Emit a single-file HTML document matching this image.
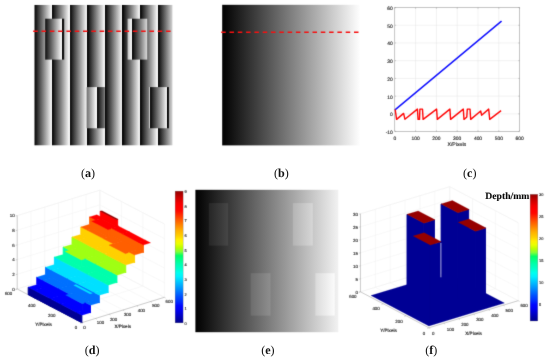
<!DOCTYPE html>
<html lang="en"><head><meta charset="utf-8"><title>Figure</title>
<style>html,body{margin:0;padding:0;background:#fff;}body{width:550px;height:362px;overflow:hidden;}svg{display:block;text-rendering:geometricPrecision;}</style>
</head><body>
<svg width="550" height="362" viewBox="0 0 550 362" font-family="Liberation Sans, Arial, sans-serif">
<defs><linearGradient id="fr" gradientUnits="userSpaceOnUse" x1="34.3" y1="0" x2="51.94" y2="0" spreadMethod="repeat"><stop offset="0" stop-color="#000"/><stop offset="1" stop-color="#fff"/></linearGradient><linearGradient id="gb" x1="0" y1="0" x2="1" y2="0"><stop offset="0" stop-color="#000"/><stop offset="1" stop-color="#fff"/></linearGradient><linearGradient id="ge" gradientUnits="userSpaceOnUse" x1="195.4" y1="0" x2="338.4" y2="0"><stop offset="0" stop-color="#000"/><stop offset="1" stop-color="#f2f2f2"/></linearGradient><linearGradient id="ge2" gradientUnits="userSpaceOnUse" x1="195.4" y1="0" x2="338.4" y2="0"><stop offset="0" stop-color="#0f0f0f"/><stop offset="0.99" stop-color="#ffffff"/><stop offset="1" stop-color="#ffffff"/></linearGradient><linearGradient id="jet" x1="0" y1="1" x2="0" y2="0"><stop offset="0.01" stop-color="#000094"/><stop offset="0.04" stop-color="#0000b4"/><stop offset="0.07" stop-color="#0000d4"/><stop offset="0.1" stop-color="#0000f4"/><stop offset="0.13" stop-color="#0007ff"/><stop offset="0.16" stop-color="#002cff"/><stop offset="0.2" stop-color="#004fff"/><stop offset="0.23" stop-color="#0070ff"/><stop offset="0.26" stop-color="#0091ff"/><stop offset="0.29" stop-color="#00b1ff"/><stop offset="0.32" stop-color="#00d0ff"/><stop offset="0.35" stop-color="#00f0ff"/><stop offset="0.38" stop-color="#00ffef"/><stop offset="0.41" stop-color="#00ffce"/><stop offset="0.45" stop-color="#00ffac"/><stop offset="0.48" stop-color="#00ff89"/><stop offset="0.51" stop-color="#00ff64"/><stop offset="0.54" stop-color="#80ff37"/><stop offset="0.57" stop-color="#b9ff00"/><stop offset="0.6" stop-color="#e9ff00"/><stop offset="0.63" stop-color="#fff000"/><stop offset="0.66" stop-color="#ffd000"/><stop offset="0.7" stop-color="#ffb100"/><stop offset="0.73" stop-color="#ff9100"/><stop offset="0.76" stop-color="#ff7000"/><stop offset="0.79" stop-color="#ff4f00"/><stop offset="0.82" stop-color="#ff2c00"/><stop offset="0.85" stop-color="#ff0700"/><stop offset="0.88" stop-color="#ff0000"/><stop offset="0.91" stop-color="#f20000"/><stop offset="0.95" stop-color="#cd0000"/><stop offset="0.98" stop-color="#a90000"/><stop offset="1" stop-color="#960000"/></linearGradient><filter id="soft" color-interpolation-filters="sRGB" filterUnits="userSpaceOnUse" x="0" y="0" width="550" height="362"><feConvolveMatrix order="3" kernelMatrix="0.01 0.08 0.01 0.08 0.64 0.08 0.01 0.08 0.01" divisor="1" edgeMode="duplicate" preserveAlpha="true"/></filter></defs>
<g filter="url(#soft)">
<rect width="550" height="362" fill="#fff"/>
<g><clipPath id="ca"><rect x="34.3" y="4.8" width="138.2" height="140.8"/></clipPath><g clip-path="url(#ca)"><rect x="34.3" y="4.8" width="158.76" height="140.8" fill="url(#fr)"/><g clip-path="url(#cb0)"><clipPath id="cb0"><rect x="45.2" y="18.4" width="19" height="41.4"/></clipPath><rect x="34.3" y="18.4" width="352.8" height="41.4" fill="url(#fr)" transform="translate(-148.7 0)"/></g><g clip-path="url(#cb1)"><clipPath id="cb1"><rect x="127.6" y="18.4" width="19.6" height="41.4"/></clipPath><rect x="34.3" y="18.4" width="352.8" height="41.4" fill="url(#fr)" transform="translate(-78.7 0)"/></g><g clip-path="url(#cb2)"><clipPath id="cb2"><rect x="86.6" y="87.1" width="18.3" height="41.4"/></clipPath><rect x="34.3" y="87.1" width="352.8" height="41.4" fill="url(#fr)" transform="translate(-114 0)"/></g><g clip-path="url(#cb3)"><clipPath id="cb3"><rect x="149.4" y="87.1" width="19.5" height="41.4"/></clipPath><rect x="34.3" y="87.1" width="352.8" height="41.4" fill="url(#fr)" transform="translate(-43.3 0)"/></g></g><line x1="33.2" y1="31.2" x2="172" y2="31.2" stroke="#f51010" stroke-width="1.6" stroke-dasharray="4.6 3.7"/></g>
<rect x="222.2" y="4.8" width="138.3" height="140.6" fill="url(#gb)"/><line x1="221.2" y1="32.2" x2="359.5" y2="32.2" stroke="#f51010" stroke-width="1.6" stroke-dasharray="4.5 3.8"/>
<g><rect x="394.8" y="7.5" width="124.8" height="124.1" fill="#fff"/><line x1="415.6" y1="7.5" x2="415.6" y2="131.6" stroke="#e4e4e4" stroke-width="0.5"/><line x1="436.4" y1="7.5" x2="436.4" y2="131.6" stroke="#e4e4e4" stroke-width="0.5"/><line x1="457.2" y1="7.5" x2="457.2" y2="131.6" stroke="#e4e4e4" stroke-width="0.5"/><line x1="478" y1="7.5" x2="478" y2="131.6" stroke="#e4e4e4" stroke-width="0.5"/><line x1="498.8" y1="7.5" x2="498.8" y2="131.6" stroke="#e4e4e4" stroke-width="0.5"/><line x1="394.8" y1="113.87" x2="519.6" y2="113.87" stroke="#e4e4e4" stroke-width="0.5"/><line x1="394.8" y1="96.14" x2="519.6" y2="96.14" stroke="#e4e4e4" stroke-width="0.5"/><line x1="394.8" y1="78.41" x2="519.6" y2="78.41" stroke="#e4e4e4" stroke-width="0.5"/><line x1="394.8" y1="60.69" x2="519.6" y2="60.69" stroke="#e4e4e4" stroke-width="0.5"/><line x1="394.8" y1="42.96" x2="519.6" y2="42.96" stroke="#e4e4e4" stroke-width="0.5"/><line x1="394.8" y1="25.23" x2="519.6" y2="25.23" stroke="#e4e4e4" stroke-width="0.5"/><line x1="394.8" y1="131.6" x2="394.8" y2="130.3" stroke="#888" stroke-width="0.4"/><line x1="394.8" y1="7.5" x2="394.8" y2="8.8" stroke="#888" stroke-width="0.4"/><line x1="415.6" y1="131.6" x2="415.6" y2="130.3" stroke="#888" stroke-width="0.4"/><line x1="415.6" y1="7.5" x2="415.6" y2="8.8" stroke="#888" stroke-width="0.4"/><line x1="436.4" y1="131.6" x2="436.4" y2="130.3" stroke="#888" stroke-width="0.4"/><line x1="436.4" y1="7.5" x2="436.4" y2="8.8" stroke="#888" stroke-width="0.4"/><line x1="457.2" y1="131.6" x2="457.2" y2="130.3" stroke="#888" stroke-width="0.4"/><line x1="457.2" y1="7.5" x2="457.2" y2="8.8" stroke="#888" stroke-width="0.4"/><line x1="478" y1="131.6" x2="478" y2="130.3" stroke="#888" stroke-width="0.4"/><line x1="478" y1="7.5" x2="478" y2="8.8" stroke="#888" stroke-width="0.4"/><line x1="498.8" y1="131.6" x2="498.8" y2="130.3" stroke="#888" stroke-width="0.4"/><line x1="498.8" y1="7.5" x2="498.8" y2="8.8" stroke="#888" stroke-width="0.4"/><line x1="519.6" y1="131.6" x2="519.6" y2="130.3" stroke="#888" stroke-width="0.4"/><line x1="519.6" y1="7.5" x2="519.6" y2="8.8" stroke="#888" stroke-width="0.4"/><line x1="394.8" y1="131.6" x2="396.1" y2="131.6" stroke="#888" stroke-width="0.4"/><line x1="519.6" y1="131.6" x2="518.3" y2="131.6" stroke="#888" stroke-width="0.4"/><line x1="394.8" y1="113.87" x2="396.1" y2="113.87" stroke="#888" stroke-width="0.4"/><line x1="519.6" y1="113.87" x2="518.3" y2="113.87" stroke="#888" stroke-width="0.4"/><line x1="394.8" y1="96.14" x2="396.1" y2="96.14" stroke="#888" stroke-width="0.4"/><line x1="519.6" y1="96.14" x2="518.3" y2="96.14" stroke="#888" stroke-width="0.4"/><line x1="394.8" y1="78.41" x2="396.1" y2="78.41" stroke="#888" stroke-width="0.4"/><line x1="519.6" y1="78.41" x2="518.3" y2="78.41" stroke="#888" stroke-width="0.4"/><line x1="394.8" y1="60.69" x2="396.1" y2="60.69" stroke="#888" stroke-width="0.4"/><line x1="519.6" y1="60.69" x2="518.3" y2="60.69" stroke="#888" stroke-width="0.4"/><line x1="394.8" y1="42.96" x2="396.1" y2="42.96" stroke="#888" stroke-width="0.4"/><line x1="519.6" y1="42.96" x2="518.3" y2="42.96" stroke="#888" stroke-width="0.4"/><line x1="394.8" y1="25.23" x2="396.1" y2="25.23" stroke="#888" stroke-width="0.4"/><line x1="519.6" y1="25.23" x2="518.3" y2="25.23" stroke="#888" stroke-width="0.4"/><line x1="394.8" y1="7.5" x2="396.1" y2="7.5" stroke="#888" stroke-width="0.4"/><line x1="519.6" y1="7.5" x2="518.3" y2="7.5" stroke="#888" stroke-width="0.4"/><rect x="394.8" y="7.5" width="124.8" height="124.1" fill="none" stroke="#8a8a8a" stroke-width="0.5"/><line x1="395.3" y1="109.6" x2="501.2" y2="21.4" stroke="#1010ff" stroke-width="1.45" stroke-linecap="round"/><polyline fill="none" stroke="#ff0808" stroke-width="1.4" stroke-linejoin="round" points="395.2,109.5 396.6,119.4 403.6,113.4 404.9,119.2 417.4,109.1 418.1,119.4 419.5,119.4 419.9,109.1 422.5,109.1 423.1,119.4 436.6,109.1 437.3,119.4 449.9,109.1 450.6,119.4 463.3,109.1 464,119.4 466.8,116.9 467.3,109.1 470,109.1 470.7,119.4 480.7,111 481.6,115.2 488.7,109.1 489.7,119.4 501.1,110.6"/><text x="394.8" y="139.8" font-size="4.9" text-anchor="middle" fill="#262626" stroke="#262626" stroke-width="0.14">0</text><text x="415.6" y="139.8" font-size="4.9" text-anchor="middle" fill="#262626" stroke="#262626" stroke-width="0.14">100</text><text x="436.4" y="139.8" font-size="4.9" text-anchor="middle" fill="#262626" stroke="#262626" stroke-width="0.14">200</text><text x="457.2" y="139.8" font-size="4.9" text-anchor="middle" fill="#262626" stroke="#262626" stroke-width="0.14">300</text><text x="478" y="139.8" font-size="4.9" text-anchor="middle" fill="#262626" stroke="#262626" stroke-width="0.14">400</text><text x="498.8" y="139.8" font-size="4.9" text-anchor="middle" fill="#262626" stroke="#262626" stroke-width="0.14">500</text><text x="519.6" y="139.8" font-size="4.9" text-anchor="middle" fill="#262626" stroke="#262626" stroke-width="0.14">600</text><text x="392.8" y="134" font-size="4.9" text-anchor="end" fill="#262626" stroke="#262626" stroke-width="0.14">-10</text><text x="392.8" y="116.27" font-size="4.9" text-anchor="end" fill="#262626" stroke="#262626" stroke-width="0.14">0</text><text x="392.8" y="98.54" font-size="4.9" text-anchor="end" fill="#262626" stroke="#262626" stroke-width="0.14">10</text><text x="392.8" y="80.81" font-size="4.9" text-anchor="end" fill="#262626" stroke="#262626" stroke-width="0.14">20</text><text x="392.8" y="63.09" font-size="4.9" text-anchor="end" fill="#262626" stroke="#262626" stroke-width="0.14">30</text><text x="392.8" y="45.36" font-size="4.9" text-anchor="end" fill="#262626" stroke="#262626" stroke-width="0.14">40</text><text x="392.8" y="27.63" font-size="4.9" text-anchor="end" fill="#262626" stroke="#262626" stroke-width="0.14">50</text><text x="392.8" y="9.9" font-size="4.9" text-anchor="end" fill="#262626" stroke="#262626" stroke-width="0.14">60</text><text x="456.8" y="146.3" font-size="5.2" text-anchor="middle" fill="#262626" stroke="#262626" stroke-width="0.14">X/Pixels</text></g>
<rect x="195.4" y="189.8" width="143" height="142.4" fill="url(#ge)"/><rect x="208.9" y="203.1" width="19.2" height="42.5" fill="url(#ge2)"/><rect x="292.9" y="203.1" width="19.9" height="42.5" fill="url(#ge2)"/><rect x="250.7" y="273.2" width="19.8" height="42.4" fill="url(#ge2)"/><rect x="315.4" y="273.2" width="19.3" height="42.4" fill="url(#ge2)"/>
<g><line x1="81.7" y1="322.7" x2="17.2" y2="288.98" stroke="#efefef" stroke-width="0.45"/><line x1="17.2" y1="288.98" x2="17.2" y2="215.58" stroke="#efefef" stroke-width="0.45"/><line x1="95.47" y1="318.47" x2="30.97" y2="284.75" stroke="#efefef" stroke-width="0.45"/><line x1="30.97" y1="284.75" x2="30.97" y2="211.35" stroke="#efefef" stroke-width="0.45"/><line x1="109.24" y1="314.24" x2="44.74" y2="280.52" stroke="#efefef" stroke-width="0.45"/><line x1="44.74" y1="280.52" x2="44.74" y2="207.12" stroke="#efefef" stroke-width="0.45"/><line x1="123.01" y1="310.01" x2="58.51" y2="276.29" stroke="#efefef" stroke-width="0.45"/><line x1="58.51" y1="276.29" x2="58.51" y2="202.89" stroke="#efefef" stroke-width="0.45"/><line x1="136.78" y1="305.78" x2="72.28" y2="272.06" stroke="#efefef" stroke-width="0.45"/><line x1="72.28" y1="272.06" x2="72.28" y2="198.66" stroke="#efefef" stroke-width="0.45"/><line x1="150.55" y1="301.55" x2="86.05" y2="267.83" stroke="#efefef" stroke-width="0.45"/><line x1="86.05" y1="267.83" x2="86.05" y2="194.43" stroke="#efefef" stroke-width="0.45"/><line x1="164.32" y1="297.32" x2="99.82" y2="263.6" stroke="#efefef" stroke-width="0.45"/><line x1="99.82" y1="263.6" x2="99.82" y2="190.2" stroke="#efefef" stroke-width="0.45"/><line x1="81.7" y1="322.7" x2="164.32" y2="297.32" stroke="#efefef" stroke-width="0.45"/><line x1="164.32" y1="297.32" x2="164.32" y2="223.92" stroke="#efefef" stroke-width="0.45"/><line x1="60.2" y1="311.46" x2="142.82" y2="286.08" stroke="#efefef" stroke-width="0.45"/><line x1="142.82" y1="286.08" x2="142.82" y2="212.68" stroke="#efefef" stroke-width="0.45"/><line x1="38.7" y1="300.22" x2="121.32" y2="274.84" stroke="#efefef" stroke-width="0.45"/><line x1="121.32" y1="274.84" x2="121.32" y2="201.44" stroke="#efefef" stroke-width="0.45"/><line x1="17.2" y1="288.98" x2="99.82" y2="263.6" stroke="#efefef" stroke-width="0.45"/><line x1="99.82" y1="263.6" x2="99.82" y2="190.2" stroke="#efefef" stroke-width="0.45"/><line x1="17.2" y1="288.98" x2="99.82" y2="263.6" stroke="#efefef" stroke-width="0.45"/><line x1="99.82" y1="263.6" x2="164.32" y2="297.32" stroke="#efefef" stroke-width="0.45"/><line x1="17.2" y1="274.3" x2="99.82" y2="248.92" stroke="#efefef" stroke-width="0.45"/><line x1="99.82" y1="248.92" x2="164.32" y2="282.64" stroke="#efefef" stroke-width="0.45"/><line x1="17.2" y1="259.62" x2="99.82" y2="234.24" stroke="#efefef" stroke-width="0.45"/><line x1="99.82" y1="234.24" x2="164.32" y2="267.96" stroke="#efefef" stroke-width="0.45"/><line x1="17.2" y1="244.94" x2="99.82" y2="219.56" stroke="#efefef" stroke-width="0.45"/><line x1="99.82" y1="219.56" x2="164.32" y2="253.28" stroke="#efefef" stroke-width="0.45"/><line x1="17.2" y1="230.26" x2="99.82" y2="204.88" stroke="#efefef" stroke-width="0.45"/><line x1="99.82" y1="204.88" x2="164.32" y2="238.6" stroke="#efefef" stroke-width="0.45"/><line x1="17.2" y1="215.58" x2="99.82" y2="190.2" stroke="#efefef" stroke-width="0.45"/><line x1="99.82" y1="190.2" x2="164.32" y2="223.92" stroke="#efefef" stroke-width="0.45"/><line x1="17.2" y1="215.58" x2="99.82" y2="190.2" stroke="#efefef" stroke-width="0.45"/><line x1="99.82" y1="190.2" x2="164.32" y2="223.92" stroke="#efefef" stroke-width="0.45"/><line x1="81.7" y1="322.7" x2="164.32" y2="297.32" stroke="#a0a0a0" stroke-width="0.5"/><line x1="81.7" y1="322.7" x2="17.2" y2="288.98" stroke="#a0a0a0" stroke-width="0.5"/><line x1="17.2" y1="288.98" x2="17.2" y2="215.58" stroke="#a0a0a0" stroke-width="0.5"/><polygon points="95.98,227.59 89.64,224.27 89.64,216.93 95.98,220.25" fill="#ff5f00" stroke="#ff5f00" stroke-width="0.9" stroke-linejoin="round"/><polygon points="95.98,220.25 103.14,218.05 96.8,214.73 89.64,216.93" fill="#ff0000" stroke="#ff0000" stroke-width="0.3" stroke-linejoin="round"/><polygon points="87.17,237.63 80.83,234.32 80.83,226.98 87.17,230.29" fill="#ffd000" stroke="#ffd000" stroke-width="0.9" stroke-linejoin="round"/><polygon points="87.17,230.29 96.53,227.42 90.19,224.1 80.83,226.98" fill="#ff5f00" stroke="#ff5f00" stroke-width="0.3" stroke-linejoin="round"/><polygon points="78.36,247.68 72.01,244.36 72.01,237.02 78.36,240.34" fill="#9fff13" stroke="#9fff13" stroke-width="0.9" stroke-linejoin="round"/><polygon points="78.36,240.34 87.72,237.46 81.38,234.15 72.01,237.02" fill="#ffd000" stroke="#ffd000" stroke-width="0.3" stroke-linejoin="round"/><polygon points="69.54,257.73 63.2,254.41 63.2,247.07 69.54,250.39" fill="#00ffac" stroke="#00ffac" stroke-width="0.9" stroke-linejoin="round"/><polygon points="69.54,250.39 78.91,247.51 72.56,244.19 63.2,247.07" fill="#9fff13" stroke="#9fff13" stroke-width="0.3" stroke-linejoin="round"/><polygon points="60.73,267.77 54.39,264.46 54.39,257.12 60.73,260.43" fill="#00e0ff" stroke="#00e0ff" stroke-width="0.9" stroke-linejoin="round"/><polygon points="60.73,260.43 70.09,257.56 63.75,254.24 54.39,257.12" fill="#00ffac" stroke="#00ffac" stroke-width="0.3" stroke-linejoin="round"/><polygon points="51.92,277.82 45.58,274.51 45.58,267.17 51.92,270.48" fill="#0070ff" stroke="#0070ff" stroke-width="0.9" stroke-linejoin="round"/><polygon points="51.92,270.48 61.28,267.61 54.94,264.29 45.58,267.17" fill="#00e0ff" stroke="#00e0ff" stroke-width="0.3" stroke-linejoin="round"/><polygon points="43.11,287.87 36.76,284.55 36.76,277.21 43.11,280.53" fill="#0000ff" stroke="#0000ff" stroke-width="0.9" stroke-linejoin="round"/><polygon points="43.11,280.53 52.47,277.65 46.13,274.34 36.76,277.21" fill="#0070ff" stroke="#0070ff" stroke-width="0.3" stroke-linejoin="round"/><polygon points="34.5,297.85 28.16,294.54 28.16,287.2 34.5,290.51" fill="#000094" stroke="#000094" stroke-width="0.9" stroke-linejoin="round"/><polygon points="34.5,290.51 43.66,287.7 37.31,284.38 28.16,287.2" fill="#0000ff" stroke="#0000ff" stroke-width="0.3" stroke-linejoin="round"/><polygon points="34.29,297.92 35.05,297.68 28.71,294.37 27.95,294.6" fill="#000094" stroke="#000094" stroke-width="0.3" stroke-linejoin="round"/><polygon points="117.68,226.79 119.05,226.36 102.71,217.82 101.34,218.24" fill="#ff0000" stroke="#ff0000" stroke-width="0.3" stroke-linejoin="round"/><polygon points="116.57,227.12 100.23,218.58 100.23,211.24 116.57,219.78" fill="#ff0000" stroke="#ff0000" stroke-width="0.9" stroke-linejoin="round"/><polygon points="116.57,227.12 117.68,226.79 117.68,219.45 116.57,219.78" fill="#ff0000" stroke="#ff0000" stroke-width="0.9" stroke-linejoin="round"/><polygon points="116.57,219.78 118.23,219.28 101.89,210.73 100.23,211.24" fill="#960000" stroke="#960000" stroke-width="0.3" stroke-linejoin="round"/><polygon points="108.04,237.09 91.7,228.54 91.7,221.2 108.04,229.75" fill="#ff5f00" stroke="#ff5f00" stroke-width="0.9" stroke-linejoin="round"/><polygon points="108.04,237.09 111.89,235.9 111.89,228.56 108.04,229.75" fill="#ff5f00" stroke="#ff5f00" stroke-width="0.9" stroke-linejoin="round"/><polygon points="108.04,229.75 117.12,226.96 100.78,218.41 91.7,221.2" fill="#ff0000" stroke="#ff0000" stroke-width="0.3" stroke-linejoin="round"/><polygon points="103.08,245.95 86.74,237.41 86.74,230.07 103.08,238.61" fill="#ffd000" stroke="#ffd000" stroke-width="0.9" stroke-linejoin="round"/><polygon points="103.08,238.61 108.59,236.92 92.25,228.38 86.74,230.07" fill="#ff5f00" stroke="#ff5f00" stroke-width="0.3" stroke-linejoin="round"/><polygon points="94.27,256 77.93,247.45 77.93,240.11 94.27,248.66" fill="#9fff13" stroke="#9fff13" stroke-width="0.9" stroke-linejoin="round"/><polygon points="94.27,248.66 103.63,245.78 87.29,237.24 77.93,240.11" fill="#ffd000" stroke="#ffd000" stroke-width="0.3" stroke-linejoin="round"/><polygon points="81.32,267.31 64.98,258.77 64.98,251.43 81.32,259.97" fill="#00ffac" stroke="#00ffac" stroke-width="0.9" stroke-linejoin="round"/><polygon points="81.32,267.31 85.45,266.04 85.45,258.7 81.32,259.97" fill="#00ffac" stroke="#00ffac" stroke-width="0.9" stroke-linejoin="round"/><polygon points="81.32,259.97 94.82,255.83 78.48,247.29 64.98,251.43" fill="#9fff13" stroke="#9fff13" stroke-width="0.3" stroke-linejoin="round"/><polygon points="76.37,276.18 60.03,267.63 60.03,260.29 76.37,268.84" fill="#00e0ff" stroke="#00e0ff" stroke-width="0.9" stroke-linejoin="round"/><polygon points="76.37,276.18 76.64,276.09 76.64,268.75 76.37,268.84" fill="#00e0ff" stroke="#00e0ff" stroke-width="0.9" stroke-linejoin="round"/><polygon points="76.37,268.84 81.87,267.14 65.53,258.6 60.03,260.29" fill="#00ffac" stroke="#00ffac" stroke-width="0.3" stroke-linejoin="round"/><polygon points="67.83,286.14 51.49,277.6 51.49,270.26 67.83,278.8" fill="#0070ff" stroke="#0070ff" stroke-width="0.9" stroke-linejoin="round"/><polygon points="67.83,278.8 76.92,276.01 60.58,267.46 51.49,270.26" fill="#00e0ff" stroke="#00e0ff" stroke-width="0.3" stroke-linejoin="round"/><polygon points="59.02,296.19 42.68,287.64 42.68,280.3 59.02,288.85" fill="#0000ff" stroke="#0000ff" stroke-width="0.9" stroke-linejoin="round"/><polygon points="59.02,288.85 68.38,285.97 52.04,277.43 42.68,280.3" fill="#0070ff" stroke="#0070ff" stroke-width="0.3" stroke-linejoin="round"/><polygon points="50.41,306.17 34.07,297.63 34.07,290.29 50.41,298.83" fill="#000094" stroke="#000094" stroke-width="0.9" stroke-linejoin="round"/><polygon points="50.41,298.83 59.57,296.02 43.23,287.47 34.07,290.29" fill="#0000ff" stroke="#0000ff" stroke-width="0.3" stroke-linejoin="round"/><polygon points="50.2,306.23 50.96,306 34.62,297.46 33.86,297.69" fill="#000094" stroke="#000094" stroke-width="0.3" stroke-linejoin="round"/><polygon points="122.32,241.35 111.46,235.68 111.46,228.34 122.32,234.01" fill="#ff5f00" stroke="#ff5f00" stroke-width="0.9" stroke-linejoin="round"/><polygon points="122.32,234.01 129.48,231.81 118.62,226.14 111.46,228.34" fill="#ff0000" stroke="#ff0000" stroke-width="0.3" stroke-linejoin="round"/><polygon points="113.51,251.4 102.65,245.73 102.65,238.39 113.51,244.06" fill="#ffd000" stroke="#ffd000" stroke-width="0.9" stroke-linejoin="round"/><polygon points="113.51,244.06 122.87,241.19 112.01,235.51 102.65,238.39" fill="#ff5f00" stroke="#ff5f00" stroke-width="0.3" stroke-linejoin="round"/><polygon points="104.69,261.45 93.84,255.77 93.84,248.43 104.69,254.11" fill="#9fff13" stroke="#9fff13" stroke-width="0.9" stroke-linejoin="round"/><polygon points="104.69,254.11 114.06,251.23 103.2,245.56 93.84,248.43" fill="#ffd000" stroke="#ffd000" stroke-width="0.3" stroke-linejoin="round"/><polygon points="95.88,271.5 85.02,265.82 85.02,258.48 95.88,264.16" fill="#00ffac" stroke="#00ffac" stroke-width="0.9" stroke-linejoin="round"/><polygon points="95.88,264.16 105.24,261.28 94.39,255.6 85.02,258.48" fill="#9fff13" stroke="#9fff13" stroke-width="0.3" stroke-linejoin="round"/><polygon points="87.07,281.54 76.21,275.87 76.21,268.53 87.07,274.2" fill="#00e0ff" stroke="#00e0ff" stroke-width="0.9" stroke-linejoin="round"/><polygon points="87.07,274.2 96.43,271.33 85.57,265.65 76.21,268.53" fill="#00ffac" stroke="#00ffac" stroke-width="0.3" stroke-linejoin="round"/><polygon points="78.26,291.59 67.4,285.91 67.4,278.57 78.26,284.25" fill="#0070ff" stroke="#0070ff" stroke-width="0.9" stroke-linejoin="round"/><polygon points="78.26,284.25 87.62,281.37 76.76,275.7 67.4,278.57" fill="#00e0ff" stroke="#00e0ff" stroke-width="0.3" stroke-linejoin="round"/><polygon points="69.44,301.64 58.59,295.96 58.59,288.62 69.44,294.3" fill="#0000ff" stroke="#0000ff" stroke-width="0.9" stroke-linejoin="round"/><polygon points="69.44,294.3 78.81,291.42 67.95,285.75 58.59,288.62" fill="#0070ff" stroke="#0070ff" stroke-width="0.3" stroke-linejoin="round"/><polygon points="60.84,311.62 49.98,305.95 49.98,298.61 60.84,304.28" fill="#000094" stroke="#000094" stroke-width="0.9" stroke-linejoin="round"/><polygon points="60.84,304.28 69.99,301.47 59.14,295.79 49.98,298.61" fill="#0000ff" stroke="#0000ff" stroke-width="0.3" stroke-linejoin="round"/><polygon points="60.63,311.68 61.39,311.45 50.53,305.78 49.77,306.01" fill="#000094" stroke="#000094" stroke-width="0.3" stroke-linejoin="round"/><polygon points="138.34,249.73 121.89,241.13 121.89,233.79 138.34,242.39" fill="#ff5f00" stroke="#ff5f00" stroke-width="0.9" stroke-linejoin="round"/><polygon points="138.34,242.39 145.5,240.19 129.05,231.59 121.89,233.79" fill="#ff0000" stroke="#ff0000" stroke-width="0.3" stroke-linejoin="round"/><polygon points="125.39,261.04 108.95,252.45 108.95,245.11 125.39,253.7" fill="#ffd000" stroke="#ffd000" stroke-width="0.9" stroke-linejoin="round"/><polygon points="125.39,261.04 129.52,259.78 129.52,252.44 125.39,253.7" fill="#ffd000" stroke="#ffd000" stroke-width="0.9" stroke-linejoin="round"/><polygon points="125.39,253.7 138.89,249.56 122.44,240.96 108.95,245.11" fill="#ff5f00" stroke="#ff5f00" stroke-width="0.3" stroke-linejoin="round"/><polygon points="120.71,269.82 104.26,261.22 104.26,253.88 120.71,262.48" fill="#9fff13" stroke="#9fff13" stroke-width="0.9" stroke-linejoin="round"/><polygon points="120.71,262.48 125.94,260.88 109.5,252.28 104.26,253.88" fill="#ffd000" stroke="#ffd000" stroke-width="0.3" stroke-linejoin="round"/><polygon points="111.9,279.87 95.45,271.27 95.45,263.93 111.9,272.53" fill="#00ffac" stroke="#00ffac" stroke-width="0.9" stroke-linejoin="round"/><polygon points="111.9,272.53 121.26,269.65 104.81,261.05 95.45,263.93" fill="#9fff13" stroke="#9fff13" stroke-width="0.3" stroke-linejoin="round"/><polygon points="103.09,289.92 86.64,281.32 86.64,273.98 103.09,282.58" fill="#00e0ff" stroke="#00e0ff" stroke-width="0.9" stroke-linejoin="round"/><polygon points="103.09,282.58 112.45,279.7 96,271.1 86.64,273.98" fill="#00ffac" stroke="#00ffac" stroke-width="0.3" stroke-linejoin="round"/><polygon points="94.27,299.96 77.83,291.37 77.83,284.03 94.27,292.62" fill="#0070ff" stroke="#0070ff" stroke-width="0.9" stroke-linejoin="round"/><polygon points="94.27,292.62 103.64,289.75 87.19,281.15 77.83,284.03" fill="#00e0ff" stroke="#00e0ff" stroke-width="0.3" stroke-linejoin="round"/><polygon points="91.79,300.73 94.82,299.8 78.38,291.2 75.35,292.13" fill="#0070ff" stroke="#0070ff" stroke-width="0.3" stroke-linejoin="round"/><polygon points="90.14,301.23 73.69,292.63 73.69,285.29 90.14,293.89" fill="#0070ff" stroke="#0070ff" stroke-width="0.9" stroke-linejoin="round"/><polygon points="90.14,301.23 91.79,300.73 91.79,293.39 90.14,293.89" fill="#0070ff" stroke="#0070ff" stroke-width="0.9" stroke-linejoin="round"/><polygon points="90.14,293.89 92.35,293.22 75.9,284.62 73.69,285.29" fill="#00e0ff" stroke="#00e0ff" stroke-width="0.3" stroke-linejoin="round"/><polygon points="82.16,311.03 65.71,302.43 65.71,295.09 82.16,303.69" fill="#0000ff" stroke="#0000ff" stroke-width="0.9" stroke-linejoin="round"/><polygon points="82.16,311.03 85.46,310.01 85.46,302.67 82.16,303.69" fill="#0000ff" stroke="#0000ff" stroke-width="0.9" stroke-linejoin="round"/><polygon points="82.16,303.69 90.69,301.06 74.25,292.47 65.71,295.09" fill="#0070ff" stroke="#0070ff" stroke-width="0.3" stroke-linejoin="round"/><polygon points="76.85,320 60.41,311.4 60.41,304.06 76.85,312.66" fill="#000094" stroke="#000094" stroke-width="0.9" stroke-linejoin="round"/><polygon points="76.85,312.66 82.71,310.86 66.26,302.26 60.41,304.06" fill="#0000ff" stroke="#0000ff" stroke-width="0.3" stroke-linejoin="round"/><polygon points="76.65,320.06 77.4,319.83 60.96,311.23 60.2,311.46" fill="#000094" stroke="#000094" stroke-width="0.3" stroke-linejoin="round"/><polygon points="143.39,252.37 137.91,249.5 137.91,242.16 143.39,245.03" fill="#ff5f00" stroke="#ff5f00" stroke-width="0.9" stroke-linejoin="round"/><polygon points="143.39,245.03 150.55,242.83 145.07,239.96 137.91,242.16" fill="#ff0000" stroke="#ff0000" stroke-width="0.3" stroke-linejoin="round"/><polygon points="134.58,262.42 129.09,259.55 129.09,252.21 134.58,255.08" fill="#ffd000" stroke="#ffd000" stroke-width="0.9" stroke-linejoin="round"/><polygon points="134.58,255.08 143.94,252.2 138.46,249.33 129.09,252.21" fill="#ff5f00" stroke="#ff5f00" stroke-width="0.3" stroke-linejoin="round"/><polygon points="125.76,272.46 120.28,269.6 120.28,262.26 125.76,265.12" fill="#9fff13" stroke="#9fff13" stroke-width="0.9" stroke-linejoin="round"/><polygon points="125.76,265.12 135.13,262.25 129.65,259.38 120.28,262.26" fill="#ffd000" stroke="#ffd000" stroke-width="0.3" stroke-linejoin="round"/><polygon points="116.95,282.51 111.47,279.64 111.47,272.31 116.95,275.17" fill="#00ffac" stroke="#00ffac" stroke-width="0.9" stroke-linejoin="round"/><polygon points="116.95,275.17 126.31,272.29 120.83,269.43 111.47,272.31" fill="#9fff13" stroke="#9fff13" stroke-width="0.3" stroke-linejoin="round"/><polygon points="108.14,292.56 102.66,289.69 102.66,282.35 108.14,285.22" fill="#00e0ff" stroke="#00e0ff" stroke-width="0.9" stroke-linejoin="round"/><polygon points="108.14,285.22 117.5,282.34 112.02,279.48 102.66,282.35" fill="#00ffac" stroke="#00ffac" stroke-width="0.3" stroke-linejoin="round"/><polygon points="99.33,302.61 93.84,299.74 93.84,292.4 99.33,295.27" fill="#0070ff" stroke="#0070ff" stroke-width="0.9" stroke-linejoin="round"/><polygon points="99.33,295.27 108.69,292.39 103.21,289.52 93.84,292.4" fill="#00e0ff" stroke="#00e0ff" stroke-width="0.3" stroke-linejoin="round"/><polygon points="90.51,312.65 85.03,309.79 85.03,302.45 90.51,305.31" fill="#0000ff" stroke="#0000ff" stroke-width="0.9" stroke-linejoin="round"/><polygon points="90.51,305.31 99.88,302.44 94.39,299.57 85.03,302.45" fill="#0070ff" stroke="#0070ff" stroke-width="0.3" stroke-linejoin="round"/><polygon points="81.91,322.64 76.42,319.77 76.42,312.43 81.91,315.3" fill="#000094" stroke="#000094" stroke-width="0.9" stroke-linejoin="round"/><polygon points="81.91,315.3 91.06,312.48 85.58,309.62 76.42,312.43" fill="#0000ff" stroke="#0000ff" stroke-width="0.3" stroke-linejoin="round"/><polygon points="81.7,322.7 82.46,322.47 76.97,319.6 76.22,319.83" fill="#000094" stroke="#000094" stroke-width="0.3" stroke-linejoin="round"/><line x1="81.7" y1="322.7" x2="82.99" y2="323.37" stroke="#a0a0a0" stroke-width="0.45"/><line x1="95.47" y1="318.47" x2="96.76" y2="319.14" stroke="#a0a0a0" stroke-width="0.45"/><line x1="109.24" y1="314.24" x2="110.53" y2="314.91" stroke="#a0a0a0" stroke-width="0.45"/><line x1="123.01" y1="310.01" x2="124.3" y2="310.68" stroke="#a0a0a0" stroke-width="0.45"/><line x1="136.78" y1="305.78" x2="138.07" y2="306.45" stroke="#a0a0a0" stroke-width="0.45"/><line x1="150.55" y1="301.55" x2="151.84" y2="302.22" stroke="#a0a0a0" stroke-width="0.45"/><line x1="164.32" y1="297.32" x2="165.61" y2="297.99" stroke="#a0a0a0" stroke-width="0.45"/><line x1="81.7" y1="322.7" x2="80.05" y2="323.21" stroke="#a0a0a0" stroke-width="0.45"/><line x1="60.2" y1="311.46" x2="58.55" y2="311.97" stroke="#a0a0a0" stroke-width="0.45"/><line x1="38.7" y1="300.22" x2="37.05" y2="300.73" stroke="#a0a0a0" stroke-width="0.45"/><line x1="17.2" y1="288.98" x2="15.55" y2="289.49" stroke="#a0a0a0" stroke-width="0.45"/><line x1="17.2" y1="288.98" x2="15.8" y2="289.38" stroke="#a0a0a0" stroke-width="0.45"/><line x1="17.2" y1="274.3" x2="15.8" y2="274.7" stroke="#a0a0a0" stroke-width="0.45"/><line x1="17.2" y1="259.62" x2="15.8" y2="260.02" stroke="#a0a0a0" stroke-width="0.45"/><line x1="17.2" y1="244.94" x2="15.8" y2="245.34" stroke="#a0a0a0" stroke-width="0.45"/><line x1="17.2" y1="230.26" x2="15.8" y2="230.66" stroke="#a0a0a0" stroke-width="0.45"/><line x1="17.2" y1="215.58" x2="15.8" y2="215.98" stroke="#a0a0a0" stroke-width="0.45"/><text x="8.6" y="295.2" font-size="4.4" text-anchor="middle" fill="#262626" stroke="#262626" stroke-width="0.14">600</text><text x="31.7" y="306.6" font-size="4.4" text-anchor="middle" fill="#262626" stroke="#262626" stroke-width="0.14">400</text><text x="51.7" y="317.4" font-size="4.4" text-anchor="middle" fill="#262626" stroke="#262626" stroke-width="0.14">200</text><text x="75.9" y="328.9" font-size="4.4" text-anchor="middle" fill="#262626" stroke="#262626" stroke-width="0.14">0</text><text x="84.4" y="328.9" font-size="4.4" text-anchor="middle" fill="#262626" stroke="#262626" stroke-width="0.14">0</text><text x="100.5" y="324" font-size="4.4" text-anchor="middle" fill="#262626" stroke="#262626" stroke-width="0.14">100</text><text x="113.6" y="320.7" font-size="4.4" text-anchor="middle" fill="#262626" stroke="#262626" stroke-width="0.14">200</text><text x="127.6" y="315.8" font-size="4.4" text-anchor="middle" fill="#262626" stroke="#262626" stroke-width="0.14">300</text><text x="141.4" y="311.5" font-size="4.4" text-anchor="middle" fill="#262626" stroke="#262626" stroke-width="0.14">400</text><text x="155.8" y="306.6" font-size="4.4" text-anchor="middle" fill="#262626" stroke="#262626" stroke-width="0.14">500</text><text x="169.2" y="303.3" font-size="4.4" text-anchor="middle" fill="#262626" stroke="#262626" stroke-width="0.14">600</text><text x="14.6" y="290.68" font-size="4.4" text-anchor="end" fill="#262626" stroke="#262626" stroke-width="0.14">0</text><text x="14.6" y="276" font-size="4.4" text-anchor="end" fill="#262626" stroke="#262626" stroke-width="0.14">2</text><text x="14.6" y="261.32" font-size="4.4" text-anchor="end" fill="#262626" stroke="#262626" stroke-width="0.14">4</text><text x="14.6" y="246.64" font-size="4.4" text-anchor="end" fill="#262626" stroke="#262626" stroke-width="0.14">6</text><text x="14.6" y="231.96" font-size="4.4" text-anchor="end" fill="#262626" stroke="#262626" stroke-width="0.14">8</text><text x="14.6" y="217.28" font-size="4.4" text-anchor="end" fill="#262626" stroke="#262626" stroke-width="0.14">10</text><text x="43.5" y="326.3" font-size="4.6" text-anchor="middle" fill="#262626" stroke="#262626" stroke-width="0.14">Y/Pixels</text><text x="122.7" y="328.2" font-size="4.6" text-anchor="middle" fill="#262626" stroke="#262626" stroke-width="0.14">X/Pixels</text><rect x="175.1" y="191.1" width="8" height="131.8" fill="url(#jet)" stroke="#777" stroke-width="0.3"/><text x="184.4" y="324.8" font-size="3.9" text-anchor="start" fill="#262626" stroke="#262626" stroke-width="0.14">0</text><text x="184.4" y="310.16" font-size="3.9" text-anchor="start" fill="#262626" stroke="#262626" stroke-width="0.14">1</text><text x="184.4" y="295.51" font-size="3.9" text-anchor="start" fill="#262626" stroke="#262626" stroke-width="0.14">2</text><text x="184.4" y="280.87" font-size="3.9" text-anchor="start" fill="#262626" stroke="#262626" stroke-width="0.14">3</text><text x="184.4" y="266.22" font-size="3.9" text-anchor="start" fill="#262626" stroke="#262626" stroke-width="0.14">4</text><text x="184.4" y="251.58" font-size="3.9" text-anchor="start" fill="#262626" stroke="#262626" stroke-width="0.14">5</text><text x="184.4" y="236.93" font-size="3.9" text-anchor="start" fill="#262626" stroke="#262626" stroke-width="0.14">6</text><text x="184.4" y="222.29" font-size="3.9" text-anchor="start" fill="#262626" stroke="#262626" stroke-width="0.14">7</text><text x="184.4" y="207.64" font-size="3.9" text-anchor="start" fill="#262626" stroke="#262626" stroke-width="0.14">8</text><text x="184.4" y="193" font-size="3.9" text-anchor="start" fill="#262626" stroke="#262626" stroke-width="0.14">9</text></g>
<g><line x1="428.9" y1="327.8" x2="360.44" y2="291.8" stroke="#efefef" stroke-width="0.45"/><line x1="360.44" y1="291.8" x2="360.44" y2="213.8" stroke="#efefef" stroke-width="0.45"/><line x1="443.78" y1="323.28" x2="375.32" y2="287.28" stroke="#efefef" stroke-width="0.45"/><line x1="375.32" y1="287.28" x2="375.32" y2="209.28" stroke="#efefef" stroke-width="0.45"/><line x1="458.66" y1="318.76" x2="390.2" y2="282.76" stroke="#efefef" stroke-width="0.45"/><line x1="390.2" y1="282.76" x2="390.2" y2="204.76" stroke="#efefef" stroke-width="0.45"/><line x1="473.54" y1="314.24" x2="405.08" y2="278.24" stroke="#efefef" stroke-width="0.45"/><line x1="405.08" y1="278.24" x2="405.08" y2="200.24" stroke="#efefef" stroke-width="0.45"/><line x1="488.42" y1="309.72" x2="419.96" y2="273.72" stroke="#efefef" stroke-width="0.45"/><line x1="419.96" y1="273.72" x2="419.96" y2="195.72" stroke="#efefef" stroke-width="0.45"/><line x1="503.3" y1="305.2" x2="434.84" y2="269.2" stroke="#efefef" stroke-width="0.45"/><line x1="434.84" y1="269.2" x2="434.84" y2="191.2" stroke="#efefef" stroke-width="0.45"/><line x1="518.18" y1="300.68" x2="449.72" y2="264.68" stroke="#efefef" stroke-width="0.45"/><line x1="449.72" y1="264.68" x2="449.72" y2="186.68" stroke="#efefef" stroke-width="0.45"/><line x1="428.9" y1="327.8" x2="518.18" y2="300.68" stroke="#efefef" stroke-width="0.45"/><line x1="518.18" y1="300.68" x2="518.18" y2="222.68" stroke="#efefef" stroke-width="0.45"/><line x1="406.08" y1="315.8" x2="495.36" y2="288.68" stroke="#efefef" stroke-width="0.45"/><line x1="495.36" y1="288.68" x2="495.36" y2="210.68" stroke="#efefef" stroke-width="0.45"/><line x1="383.26" y1="303.8" x2="472.54" y2="276.68" stroke="#efefef" stroke-width="0.45"/><line x1="472.54" y1="276.68" x2="472.54" y2="198.68" stroke="#efefef" stroke-width="0.45"/><line x1="360.44" y1="291.8" x2="449.72" y2="264.68" stroke="#efefef" stroke-width="0.45"/><line x1="449.72" y1="264.68" x2="449.72" y2="186.68" stroke="#efefef" stroke-width="0.45"/><line x1="360.44" y1="291.8" x2="449.72" y2="264.68" stroke="#efefef" stroke-width="0.45"/><line x1="449.72" y1="264.68" x2="518.18" y2="300.68" stroke="#efefef" stroke-width="0.45"/><line x1="360.44" y1="278.8" x2="449.72" y2="251.68" stroke="#efefef" stroke-width="0.45"/><line x1="449.72" y1="251.68" x2="518.18" y2="287.68" stroke="#efefef" stroke-width="0.45"/><line x1="360.44" y1="265.8" x2="449.72" y2="238.68" stroke="#efefef" stroke-width="0.45"/><line x1="449.72" y1="238.68" x2="518.18" y2="274.68" stroke="#efefef" stroke-width="0.45"/><line x1="360.44" y1="252.8" x2="449.72" y2="225.68" stroke="#efefef" stroke-width="0.45"/><line x1="449.72" y1="225.68" x2="518.18" y2="261.68" stroke="#efefef" stroke-width="0.45"/><line x1="360.44" y1="239.8" x2="449.72" y2="212.68" stroke="#efefef" stroke-width="0.45"/><line x1="449.72" y1="212.68" x2="518.18" y2="248.68" stroke="#efefef" stroke-width="0.45"/><line x1="360.44" y1="226.8" x2="449.72" y2="199.68" stroke="#efefef" stroke-width="0.45"/><line x1="449.72" y1="199.68" x2="518.18" y2="235.68" stroke="#efefef" stroke-width="0.45"/><line x1="360.44" y1="213.8" x2="449.72" y2="186.68" stroke="#efefef" stroke-width="0.45"/><line x1="449.72" y1="186.68" x2="518.18" y2="222.68" stroke="#efefef" stroke-width="0.45"/><line x1="360.44" y1="213.8" x2="449.72" y2="186.68" stroke="#efefef" stroke-width="0.45"/><line x1="449.72" y1="186.68" x2="518.18" y2="222.68" stroke="#efefef" stroke-width="0.45"/><line x1="428.9" y1="327.8" x2="518.18" y2="300.68" stroke="#a0a0a0" stroke-width="0.5"/><line x1="428.9" y1="327.8" x2="360.44" y2="291.8" stroke="#a0a0a0" stroke-width="0.5"/><line x1="360.44" y1="291.8" x2="360.44" y2="213.8" stroke="#a0a0a0" stroke-width="0.5"/><polygon points="428.9,325.98 504.34,303.06 446.49,272.64 371.05,295.56" fill="#000094" stroke="#000094" stroke-width="0.3" stroke-linejoin="round"/><polygon points="457.95,289.04 441.07,280.16 441.07,203.98 457.95,212.86" fill="#000094" stroke="#000094" stroke-width="0.9" stroke-linejoin="round"/><polygon points="457.95,289.04 468.67,285.79 468.67,209.61 457.95,212.86" fill="#000094" stroke="#000094" stroke-width="0.9" stroke-linejoin="round"/><polygon points="457.95,212.86 469.26,209.43 452.38,200.55 441.07,203.98" fill="#960000" stroke="#960000" stroke-width="0.3" stroke-linejoin="round"/><polygon points="423.88,299.39 406.99,290.51 406.99,214.33 423.88,223.21" fill="#000094" stroke="#000094" stroke-width="0.9" stroke-linejoin="round"/><polygon points="423.88,299.39 434.44,296.18 434.44,220 423.88,223.21" fill="#000094" stroke="#000094" stroke-width="0.9" stroke-linejoin="round"/><polygon points="423.88,223.21 435.04,219.82 418.15,210.94 406.99,214.33" fill="#960000" stroke="#960000" stroke-width="0.3" stroke-linejoin="round"/><polygon points="475.43,307.49 458.32,298.49 458.32,222.31 475.43,231.31" fill="#000094" stroke="#000094" stroke-width="0.9" stroke-linejoin="round"/><polygon points="475.43,307.49 485.55,304.42 485.55,228.24 475.43,231.31" fill="#000094" stroke="#000094" stroke-width="0.9" stroke-linejoin="round"/><polygon points="475.43,231.31 486.15,228.06 469.03,219.06 458.32,222.31" fill="#960000" stroke="#960000" stroke-width="0.3" stroke-linejoin="round"/><polygon points="430.35,321.19 413.23,312.19 413.23,236.01 430.35,245.01" fill="#000094" stroke="#000094" stroke-width="0.9" stroke-linejoin="round"/><polygon points="430.35,321.19 440.61,318.07 440.61,241.89 430.35,245.01" fill="#000094" stroke="#000094" stroke-width="0.9" stroke-linejoin="round"/><polygon points="430.35,245.01 441.21,241.71 424.09,232.71 413.23,236.01" fill="#960000" stroke="#960000" stroke-width="0.3" stroke-linejoin="round"/><line x1="440.9" y1="243" x2="440.9" y2="277.3" stroke="#fff" stroke-width="0.7" opacity="0.9"/><line x1="428.9" y1="327.8" x2="430.27" y2="328.52" stroke="#a0a0a0" stroke-width="0.45"/><line x1="443.78" y1="323.28" x2="445.15" y2="324" stroke="#a0a0a0" stroke-width="0.45"/><line x1="458.66" y1="318.76" x2="460.03" y2="319.48" stroke="#a0a0a0" stroke-width="0.45"/><line x1="473.54" y1="314.24" x2="474.91" y2="314.96" stroke="#a0a0a0" stroke-width="0.45"/><line x1="488.42" y1="309.72" x2="489.79" y2="310.44" stroke="#a0a0a0" stroke-width="0.45"/><line x1="503.3" y1="305.2" x2="504.67" y2="305.92" stroke="#a0a0a0" stroke-width="0.45"/><line x1="518.18" y1="300.68" x2="519.55" y2="301.4" stroke="#a0a0a0" stroke-width="0.45"/><line x1="428.9" y1="327.8" x2="427.11" y2="328.34" stroke="#a0a0a0" stroke-width="0.45"/><line x1="406.08" y1="315.8" x2="404.29" y2="316.34" stroke="#a0a0a0" stroke-width="0.45"/><line x1="383.26" y1="303.8" x2="381.47" y2="304.34" stroke="#a0a0a0" stroke-width="0.45"/><line x1="360.44" y1="291.8" x2="358.65" y2="292.34" stroke="#a0a0a0" stroke-width="0.45"/><line x1="360.44" y1="291.8" x2="359.04" y2="292.2" stroke="#a0a0a0" stroke-width="0.45"/><line x1="360.44" y1="278.8" x2="359.04" y2="279.2" stroke="#a0a0a0" stroke-width="0.45"/><line x1="360.44" y1="265.8" x2="359.04" y2="266.2" stroke="#a0a0a0" stroke-width="0.45"/><line x1="360.44" y1="252.8" x2="359.04" y2="253.2" stroke="#a0a0a0" stroke-width="0.45"/><line x1="360.44" y1="239.8" x2="359.04" y2="240.2" stroke="#a0a0a0" stroke-width="0.45"/><line x1="360.44" y1="226.8" x2="359.04" y2="227.2" stroke="#a0a0a0" stroke-width="0.45"/><line x1="360.44" y1="213.8" x2="359.04" y2="214.2" stroke="#a0a0a0" stroke-width="0.45"/><text x="352.9" y="298.4" font-size="4.4" text-anchor="middle" fill="#262626" stroke="#262626" stroke-width="0.14">600</text><text x="376.1" y="310.1" font-size="4.4" text-anchor="middle" fill="#262626" stroke="#262626" stroke-width="0.14">400</text><text x="399" y="322.6" font-size="4.4" text-anchor="middle" fill="#262626" stroke="#262626" stroke-width="0.14">200</text><text x="423.9" y="334.5" font-size="4.4" text-anchor="middle" fill="#262626" stroke="#262626" stroke-width="0.14">0</text><text x="433.3" y="335" font-size="4.4" text-anchor="middle" fill="#262626" stroke="#262626" stroke-width="0.14">0</text><text x="450.5" y="330.5" font-size="4.4" text-anchor="middle" fill="#262626" stroke="#262626" stroke-width="0.14">100</text><text x="464.9" y="325.8" font-size="4.4" text-anchor="middle" fill="#262626" stroke="#262626" stroke-width="0.14">200</text><text x="479.8" y="321.3" font-size="4.4" text-anchor="middle" fill="#262626" stroke="#262626" stroke-width="0.14">300</text><text x="494.8" y="316.8" font-size="4.4" text-anchor="middle" fill="#262626" stroke="#262626" stroke-width="0.14">400</text><text x="509.2" y="311.9" font-size="4.4" text-anchor="middle" fill="#262626" stroke="#262626" stroke-width="0.14">500</text><text x="524.1" y="307.1" font-size="4.4" text-anchor="middle" fill="#262626" stroke="#262626" stroke-width="0.14">600</text><text x="357.84" y="293.5" font-size="4.4" text-anchor="end" fill="#262626" stroke="#262626" stroke-width="0.14">0</text><text x="357.84" y="280.5" font-size="4.4" text-anchor="end" fill="#262626" stroke="#262626" stroke-width="0.14">5</text><text x="357.84" y="267.5" font-size="4.4" text-anchor="end" fill="#262626" stroke="#262626" stroke-width="0.14">10</text><text x="357.84" y="254.5" font-size="4.4" text-anchor="end" fill="#262626" stroke="#262626" stroke-width="0.14">15</text><text x="357.84" y="241.5" font-size="4.4" text-anchor="end" fill="#262626" stroke="#262626" stroke-width="0.14">20</text><text x="357.84" y="228.5" font-size="4.4" text-anchor="end" fill="#262626" stroke="#262626" stroke-width="0.14">25</text><text x="357.84" y="215.5" font-size="4.4" text-anchor="end" fill="#262626" stroke="#262626" stroke-width="0.14">30</text><text x="388.5" y="331.8" font-size="4.6" text-anchor="middle" fill="#262626" stroke="#262626" stroke-width="0.14">Y/Pixels</text><text x="473.6" y="334.5" font-size="4.6" text-anchor="middle" fill="#262626" stroke="#262626" stroke-width="0.14">X/Pixels</text><rect x="530.1" y="194.3" width="7.7" height="126.7" fill="url(#jet)" stroke="#777" stroke-width="0.3"/><text x="539" y="306.4" font-size="3.9" text-anchor="start" fill="#262626" stroke="#262626" stroke-width="0.14">5</text><text x="539" y="284.3" font-size="3.9" text-anchor="start" fill="#262626" stroke="#262626" stroke-width="0.14">10</text><text x="539" y="262.2" font-size="3.9" text-anchor="start" fill="#262626" stroke="#262626" stroke-width="0.14">15</text><text x="539" y="240.1" font-size="3.9" text-anchor="start" fill="#262626" stroke="#262626" stroke-width="0.14">20</text><text x="539" y="218" font-size="3.9" text-anchor="start" fill="#262626" stroke="#262626" stroke-width="0.14">25</text><text x="539" y="195.9" font-size="3.9" text-anchor="start" fill="#262626" stroke="#262626" stroke-width="0.14">30</text></g>
</g>
<g>
<text x="485.3" y="199.4" font-family="Liberation Serif, Times New Roman, serif" font-weight="bold" font-size="9.7" fill="#0a0a0a" stroke="#0a0a0a" stroke-width="0.12">Depth/mm</text><text x="88" y="177.4" font-family="Liberation Serif, Times New Roman, serif" font-size="12.1" text-anchor="middle" fill="#111">(<tspan font-weight="bold">a</tspan>)</text><text x="281.3" y="177.4" font-family="Liberation Serif, Times New Roman, serif" font-size="12.1" text-anchor="middle" fill="#111">(<tspan font-weight="bold">b</tspan>)</text><text x="469.7" y="177.4" font-family="Liberation Serif, Times New Roman, serif" font-size="12.1" text-anchor="middle" fill="#111">(<tspan font-weight="bold">c</tspan>)</text><text x="92.1" y="353.6" font-family="Liberation Serif, Times New Roman, serif" font-size="12.1" text-anchor="middle" fill="#111">(<tspan font-weight="bold">d</tspan>)</text><text x="267.9" y="353.6" font-family="Liberation Serif, Times New Roman, serif" font-size="12.1" text-anchor="middle" fill="#111">(<tspan font-weight="bold">e</tspan>)</text><text x="431.3" y="353.6" font-family="Liberation Serif, Times New Roman, serif" font-size="12.1" text-anchor="middle" fill="#111">(<tspan font-weight="bold">f</tspan>)</text>
</g>
</svg>
</body></html>
